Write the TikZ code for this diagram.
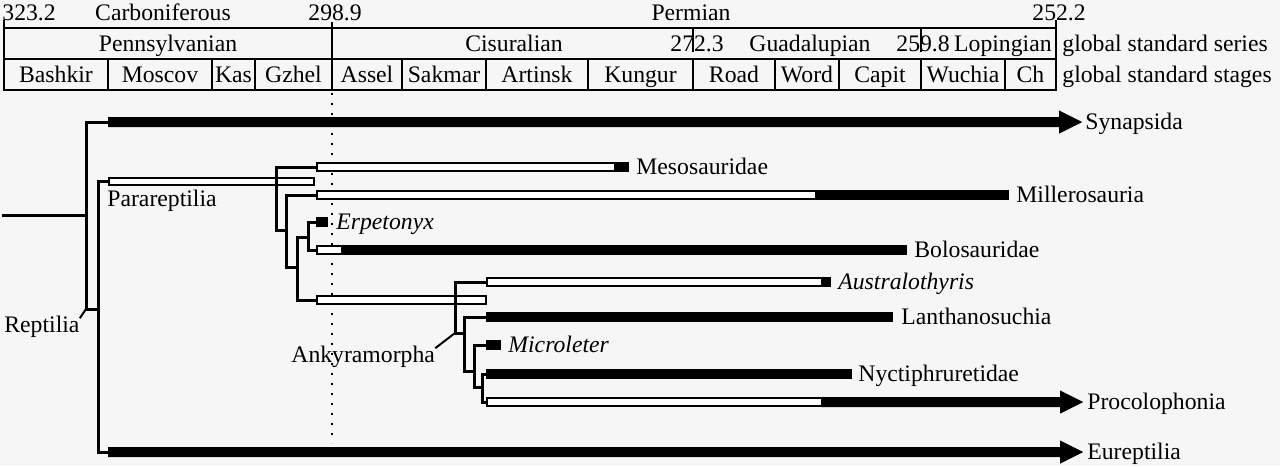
\documentclass[tikz,border=0pt]{standalone}
\usepackage{fontspec}
\setmainfont{Liberation Serif}
\usepackage{tikz}
\usetikzlibrary{calc}
\definecolor{paper}{RGB}{246,246,246}

\begin{document}
\begin{tikzpicture}[x=0.5pt, y=-0.5pt, line join=miter,
  txt/.style={inner sep=0pt, text height=0.70em, text depth=0.22em, yshift=-1.4pt, font=\fontsize{11.85}{14}\selectfont},
  taxon/.style={txt, anchor=west},
  box/.style={line width=1.3pt},
  branch/.style={line width=1.5pt},
  leader/.style={line width=1pt},
  ghost/.style={draw, fill=white, line width=1pt},
  record/.style={draw, fill=black, line width=1pt},
  boundary/.style={line width=1.1pt, dash pattern=on 1pt off 4pt}]
  \useasboundingbox (0,0) rectangle (1280,466);
  \fill[paper] (0,0) rectangle (1280,466);

  \node[txt, anchor=west]  (t323)    at (2,13)      {323.2};
  \node[txt]               (carb)    at (163,13)    {Carboniferous};
  \node[txt, anchor=west]  (t298)    at (308,13)    {298.9};
  \node[txt]               (perm)    at (691,13)    {Permian};
  \node[txt, anchor=west]  (t252)    at (1032,13)   {252.2};
  \node[txt]               (penn)    at (168,44)    {Pennsylvanian};
  \node[txt]               (cisu)    at (514,44)    {Cisuralian};
  \node[txt, anchor=west]  (t272)    at (670,44)    {272.3};
  \node[txt]               (guad)    at (810,44)    {Guadalupian};
  \node[txt, anchor=west]  (t259)    at (896,44)    {259.8};
  \node[txt, anchor=east]  (lop)     at (1052,44)   {Lopingian};
  \node[taxon]             (series)  at (1062,44)   {global standard series};
  \node[taxon]             (stages)  at (1062,75)   {global standard stages};

  \draw[box] (4,28) rectangle (1056,90);
  \draw[box] (4,59) -- (1056,59);
  \draw[box] (4,20) -- (4,28);
  \draw[box] (332,22) -- (332,59);
  \draw[box] (1056,20) -- (1056,28);
  \draw[box] (693,28) -- (693,52);
  \draw[box] (921,28) -- (921,52);
  \foreach \a/\b/\t in {4/108/Bashkir, 108/212/Moscov, 212/255/Kas, 255/332/Gzhel,
      332/402/Assel, 402/486/Sakmar, 486/588/Artinsk, 588/693/Kungur, 693/775/Road,
      775/839/Word, 839/921/Capit, 921/1005/Wuchia, 1005/1056/Ch}
  {
    \draw[box] (\b,59) -- (\b,90);
    \node[txt] (\t) at ({(\a+\b)/2},75) {\t};
  }

  \draw[boundary] (332,93) -- (332,443);

  \coordinate (root)  at (2,215);
  \coordinate (nAmn)  at (86,215);
  \coordinate (nRep)  at (98,309);
  \coordinate (syn)   at (109,122);
  \coordinate (para)  at (109,181);
  \coordinate (eur)   at (109,452);
  \coordinate (nPar)  at (276,181);
  \coordinate (meso)  at (317,167);
  \coordinate (nP2)   at (286,230);
  \coordinate (mill)  at (317,195);
  \coordinate (nP3)   at (297,267);
  \coordinate (nP4)   at (308,237);
  \coordinate (erp)   at (317,222);
  \coordinate (bol)   at (317,250);
  \coordinate (ank)   at (317,300);
  \coordinate (nAnk)  at (455,300);
  \coordinate (aus)   at (487,282);
  \coordinate (nA2)   at (464,333);
  \coordinate (lan)   at (487,317);
  \coordinate (nA3)   at (474,371);
  \coordinate (mic)   at (487,345);
  \coordinate (nA4)   at (482,387);
  \coordinate (nyc)   at (487,374);
  \coordinate (pro)   at (487,402);

  % ranges: white = ghost lineage, black = record
  \draw[record] (109,118) -- (1060,118) -- (1060,112) -- (1080,122) -- (1060,132) -- (1060,126) -- (109,126) -- cycle;
  \draw[ghost]  (109,178) rectangle (314,185);
  \draw[ghost]  (317,163) rectangle (615,171);
  \draw[record] (615,163) rectangle (628,171);
  \draw[ghost]  (317,191) rectangle (816,199);
  \draw[record] (816,191) rectangle (1008,199);
  \draw[record] (317,218) rectangle (327,226);
  \draw[ghost]  (317,246) rectangle (342,254);
  \draw[record] (342,246) rectangle (906,254);
  \draw[ghost]  (317,296) rectangle (486,304);
  \draw[ghost]  (487,278) rectangle (822,286);
  \draw[record] (822,278) rectangle (830,286);
  \draw[record] (487,313) rectangle (892,321);
  \draw[record] (487,341) rectangle (500,349);
  \draw[record] (487,370) rectangle (851,378);
  \draw[ghost]  (487,398) rectangle (822,406);
  \draw[record] (822,398) -- (1061,398) -- (1061,392) -- (1081,402) -- (1061,412) -- (1061,406) -- (822,406) -- cycle;
  \draw[record] (109,448) -- (1061,448) -- (1061,442) -- (1081,452) -- (1061,462) -- (1061,456) -- (109,456) -- cycle;

  \draw[branch] (root) -- (nAmn);
  \draw[branch] (syn)  -| (nAmn) |- (nRep);
  \draw[branch] (para) -| (nRep) |- (eur);
  \draw[branch] (meso) -| (nPar) |- (nP2);
  \draw[branch] (mill) -| (nP2)  |- (nP3);
  \draw[branch] (nP4)  -| (nP3)  |- (ank);
  \draw[branch] (erp)  -| (nP4)  |- (bol);
  \draw[branch] (aus)  -| (nAnk) |- (nA2);
  \draw[branch] (lan)  -| (nA2)  |- (nA3);
  \draw[branch] (mic)  -| (nA3)  |- (nA4);
  \draw[branch] (nyc)  -| (nA4)  |- (pro);

  \node[taxon]  (lSyn)   at (1085,122)  {Synapsida};
  \node[taxon]  (lPara)  at (107,199)   {Parareptilia};
  \node[taxon]  (lMeso)  at (636,167)   {Mesosauridae};
  \node[taxon]  (lMill)  at (1016,195)  {Millerosauria};
  \node[taxon]  (lErp)   at (336,222)   {\itshape Erpetonyx};
  \node[taxon]  (lBol)   at (914,250)   {Bolosauridae};
  \node[taxon]  (lAus)   at (838,282)   {\itshape Australothyris};
  \node[taxon]  (lLan)   at (901,317)   {Lanthanosuchia};
  \node[taxon]  (lMic)   at (508,345)   {\itshape Microleter};
  \node[taxon]  (lNyc)   at (858,374)   {Nyctiphruretidae};
  \node[taxon]  (lPro)   at (1087,402)  {Procolophonia};
  \node[taxon]  (lEur)   at (1087,452)  {Eureptilia};
  \node[taxon]  (lRep)   at (4,325)     {Reptilia};
  \node[taxon]  (lAnk)   at (291,355)   {Ankyramorpha};

  \draw[leader] (lRep.north east) -- (nAmn |- nRep);
  \draw[leader] (lAnk.north east) -- (nAnk |- nA2);
\end{tikzpicture}
\end{document}
